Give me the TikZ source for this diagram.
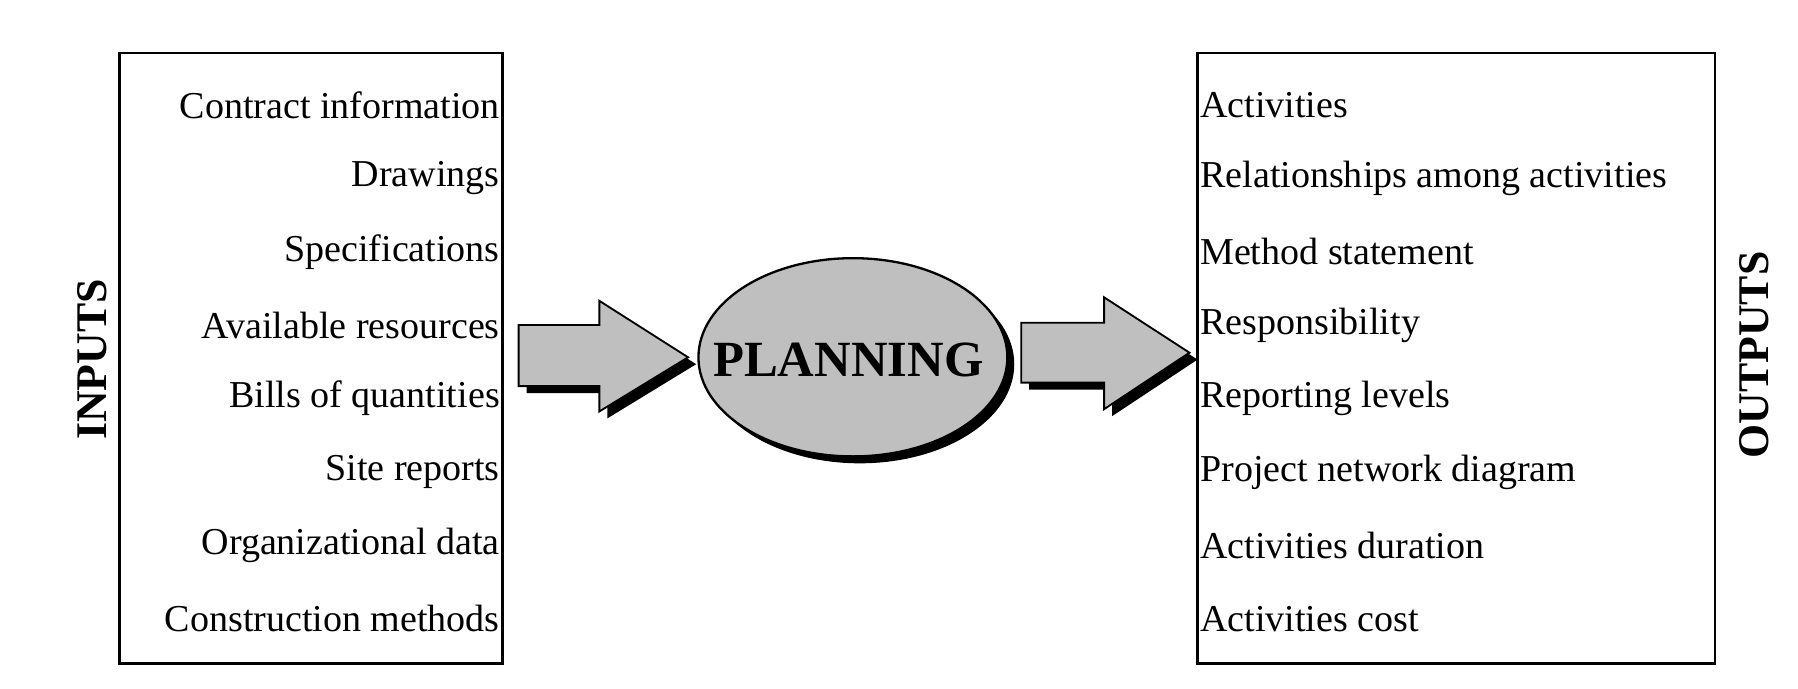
\documentclass[tikz,border=0pt]{standalone}
\usepackage{fontspec}
\setmainfont{Liberation Serif}
\usetikzlibrary{shapes.geometric}
\begin{document}
\begin{tikzpicture}[x=0.5pt,y=-0.5pt,
 item/.style={font=\fontsize{16.5}{18}\selectfont,inner sep=0pt},
 side/.style={font=\fontsize{19}{20}\selectfont\bfseries,rotate=90,inner sep=0pt},
 frame/.style={draw,line width=1.2pt}]
\useasboundingbox (0,0) rectangle (1560,597);
\draw[frame] (104,46) rectangle (436,576);
\draw[frame] (1039,46) rectangle (1488,576);
\foreach \t [count=\i] in {Contract information,Drawings,Specifications,Available resources,Bills of quantities,Site reports,Organizational data,Construction methods}
  \node[item,anchor=east] (in\i) at (434,{91+63.7*(\i-1)}) {\t};
\foreach \t [count=\i] in {Activities,Relationships among activities,Method statement,Responsibility,Reporting levels,Project network diagram,Activities duration,Activities cost}
  \node[item,anchor=west] (out\i) at (1041,{91+63.7*(\i-1)}) {\t};
\node[side] (inp) at (80,312) {INPUTS};
\node[side] (outp) at (1522,308) {OUTPUTS};
% ellipse
\fill (746,316) ellipse [x radius=134, y radius=86];
\draw[fill=gray!50,line width=1pt] (740,310) ellipse [x radius=134, y radius=86];
\node[font=\fontsize{22}{24}\selectfont\bfseries] (plan) at (736,312) {PLANNING};
% arrows
\foreach \bx/\hx/\tx/\ty/\bt/\bb/\ht/\hb in {450/520/597/310/282/335/261/357, 886/958/1032/306/280/332/258/355}{
  \fill[shift={(7,6)}] (\bx,\bt) -- (\hx,\bt) -- (\hx,\ht) -- (\tx,\ty) -- (\hx,\hb) -- (\hx,\bb) -- (\bx,\bb) -- cycle;
  \draw[fill=gray!50,line width=0.8pt] (\bx,\bt) -- (\hx,\bt) -- (\hx,\ht) -- (\tx,\ty) -- (\hx,\hb) -- (\hx,\bb) -- (\bx,\bb) -- cycle;
}
\end{tikzpicture}
\end{document}
